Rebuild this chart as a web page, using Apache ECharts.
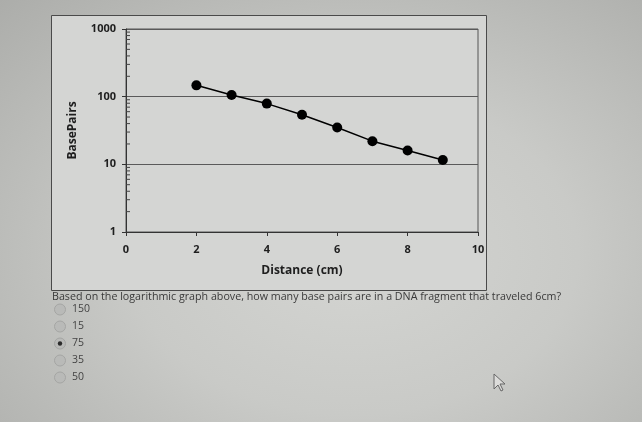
<!DOCTYPE html>
<html>
<head>
<meta charset="utf-8">
<script src="https://cdn.jsdelivr.net/npm/echarts@6/dist/echarts.min.js"></script>
<style>
html,body{margin:0;padding:0;width:642px;height:422px;overflow:hidden;
background: radial-gradient(ellipse at 55% 60%, #d4d5d2 0%, #c9cac7 45%, #acadaa 100%);}
#chart{width:642px;height:422px;}
</style>
</head>
<body>
<div id="chart"></div>
<script>
// Data
const distance = [2, 3, 4, 5, 6, 7, 8, 9];
const basePairs = [147, 106, 79, 54, 35, 22, 16, 11.6];
const minorTickValues = [2,3,4,5,6,7,8,9,20,30,40,50,60,70,80,90,200,300,400,500,600,700,800,900];
const question = 'Based on the logarithmic graph above, how many base pairs are in a DNA fragment that traveled 6cm?';
const choices = ['150', '15', '75', '35', '50'];
const selectedIndex = 2;

const chart = echarts.init(document.getElementById('chart'));
const labelFont = { fontFamily: 'Open Sans', fontWeight: 'bold', fontSize: 11, color: '#1e1e1e' };
const nameFont = { fontFamily: 'Open Sans', fontWeight: 'bold', fontSize: 12, color: '#1e1e1e' };

const graphics = [
  { type: 'rect', z: -10, silent: true,
    shape: { x: 51.5, y: 15.5, width: 435, height: 275 },
    style: { fill: '#d4d5d3', stroke: '#4a4a4a', lineWidth: 1 } },
  { type: 'text', left: 52, top: 291,
    style: { text: question, font: '10.7px "Open Sans"', fill: '#3a3a3a' } }
];
choices.forEach((c, i) => {
  const cy = 309.5 + i * 17;
  graphics.push({ type: 'circle', shape: { cx: 60, cy: cy, r: 5.5 },
    style: { fill: '#b9bab8', stroke: '#a4a5a3', lineWidth: 1 } });
  if (i === selectedIndex) {
    graphics.push({ type: 'circle', shape: { cx: 60, cy: cy, r: 2.2 }, style: { fill: '#2a2a2a' } });
  }
  graphics.push({ type: 'text', x: 72, y: cy,
    style: { text: c, font: '10.5px "Open Sans"', fill: '#444', textVerticalAlign: 'middle', verticalAlign: 'middle' } });
});
graphics.push({ type: 'polygon',
  shape: { points: [[494,374],[494,389],[498,385],[501,391],[503,390],[500,384],[505,384]] },
  style: { fill: '#dcdcda', stroke: '#666', lineWidth: 1 } });

chart.setOption({
  animation: false,
  grid: { left: 126, right: 164, top: 29, bottom: 190, show: true, borderColor: '#555', borderWidth: 1, backgroundColor: 'transparent' },
  graphic: graphics,
  xAxis: {
    type: 'value', min: 0, max: 10, interval: 2,
    name: 'Distance (cm)', nameLocation: 'middle', nameGap: 33,
    nameTextStyle: nameFont,
    axisLine: { lineStyle: { color: '#333', width: 1 } },
    axisTick: { show: true, length: 4, lineStyle: { color: '#333' } },
    axisLabel: Object.assign({ margin: 12 }, labelFont),
    splitLine: { show: false }
  },
  yAxis: {
    type: 'log', logBase: 10, min: 1, max: 1000,
    name: 'BasePairs', nameLocation: 'middle', nameGap: 47,
    nameTextStyle: nameFont,
    axisLine: { show: true, lineStyle: { color: '#333', width: 1 } },
    axisTick: { show: true, length: 4, lineStyle: { color: '#333' } },
    axisLabel: Object.assign({ margin: 10, formatter: v => String(Math.round(v)) }, labelFont),
    splitLine: { show: true, lineStyle: { color: '#5a5a5a', width: 1 } }
  },
  series: [
    {
      type: 'custom', silent: true, clip: false, z: 1,
      data: minorTickValues.map(v => [0, v]),
      renderItem: function (params, api) {
        const p = api.coord([api.value(0), api.value(1)]);
        return { type: 'line', shape: { x1: p[0], y1: p[1], x2: p[0] + 4, y2: p[1] },
          style: { stroke: '#444', lineWidth: 1 } };
      }
    },
    {
      type: 'line', z: 3,
      data: distance.map((d, i) => [d, basePairs[i]]),
      symbol: 'circle', symbolSize: 10,
      lineStyle: { color: '#000', width: 1.5 },
      itemStyle: { color: '#000' }
    }
  ]
});
</script>
</body>
</html>
